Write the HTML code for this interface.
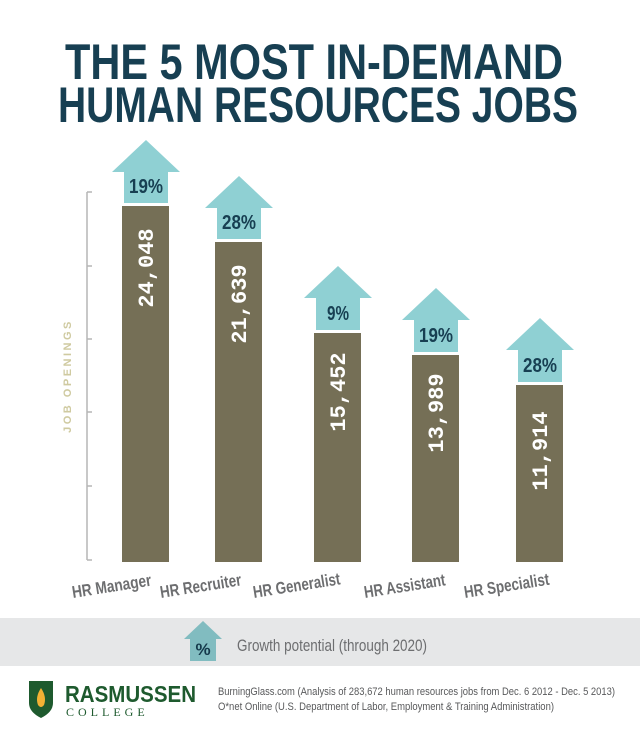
<!DOCTYPE html>
<html><head><meta charset="utf-8"><style>
html,body{margin:0;padding:0;background:#fff;}
svg{display:block;}
</style></head><body>
<svg width="640" height="730" viewBox="0 0 640 730" xmlns="http://www.w3.org/2000/svg">
<rect width="640" height="730" fill="#fff"/>
<g font-family="Liberation Sans, sans-serif" font-weight="bold" fill="#173f52" font-size="50">
<text x="65" y="79" textLength="498" lengthAdjust="spacingAndGlyphs">THE 5 MOST IN-DEMAND</text>
<text x="58" y="122" textLength="520" lengthAdjust="spacingAndGlyphs">HUMAN RESOURCES JOBS</text>
</g>
<g stroke="#b5b5b5" stroke-width="1.5" fill="none">
<line x1="87" y1="192" x2="87" y2="560"/>
<line x1="87" y1="192" x2="92" y2="192"/>
<line x1="87" y1="266" x2="92" y2="266"/>
<line x1="87" y1="339" x2="92" y2="339"/>
<line x1="87" y1="412" x2="92" y2="412"/>
<line x1="87" y1="486" x2="92" y2="486"/>
<line x1="87" y1="560" x2="92" y2="560"/>
</g>
<text transform="translate(71,376) rotate(-90)" text-anchor="middle" font-family="Liberation Sans, sans-serif" font-size="11" font-weight="bold" letter-spacing="2.5" fill="#cfcaa0">JOB OPENINGS</text>
<g fill="#756f56">
<rect x="122" y="206" width="47" height="356"/>
<rect x="215" y="242" width="47" height="320"/>
<rect x="314" y="333" width="47" height="229"/>
<rect x="412" y="355" width="47" height="207"/>
<rect x="516" y="385" width="47" height="177"/>
</g>
<g fill="#8fd0d3">
<path d="M146,140 L180,172 L168,172 L168,203 L124,203 L124,172 L112,172 Z"/>
<path d="M239,176 L273,208 L261,208 L261,239 L217,239 L217,208 L205,208 Z"/>
<path d="M338,266 L372,298 L360,298 L360,330 L316,330 L316,298 L304,298 Z"/>
<path d="M436,288 L470,320 L458,320 L458,352 L414,352 L414,320 L402,320 Z"/>
<path d="M540,318 L574,350 L562,350 L562,382 L518,382 L518,350 L506,350 Z"/>
<path d="M203,621 L222,639 L216,639 L216,661 L190,661 L190,639 L184,639 Z"/>
</g>
<g font-family="Liberation Sans, sans-serif" font-weight="bold" fill="#173f52" font-size="20" text-anchor="middle">
<text x="146" y="193" textLength="34" lengthAdjust="spacingAndGlyphs">19%</text>
<text x="239" y="229" textLength="34" lengthAdjust="spacingAndGlyphs">28%</text>
<text x="338" y="320" textLength="22" lengthAdjust="spacingAndGlyphs">9%</text>
<text x="436" y="342" textLength="34" lengthAdjust="spacingAndGlyphs">19%</text>
<text x="540" y="372" textLength="34" lengthAdjust="spacingAndGlyphs">28%</text>
<text x="203" y="655" font-size="17">%</text>
</g>
<g font-family="Liberation Mono, monospace" font-weight="bold" font-size="22" fill="#fff" text-anchor="middle">
<text transform="translate(153,268) rotate(-90)">24,048</text>
<text transform="translate(246,304) rotate(-90)">21,639</text>
<text transform="translate(345,392) rotate(-90)">15,452</text>
<text transform="translate(443,413) rotate(-90)">13,989</text>
<text transform="translate(547,451) rotate(-90)">11,914</text>
</g>
<g font-family="Liberation Sans, sans-serif" font-weight="bold" font-size="17" fill="#6d6e70">
<text transform="translate(73,598) rotate(-9)" textLength="80" lengthAdjust="spacingAndGlyphs">HR Manager</text>
<text transform="translate(161,598) rotate(-9)" textLength="82" lengthAdjust="spacingAndGlyphs">HR Recruiter</text>
<text transform="translate(254,598) rotate(-9)" textLength="88" lengthAdjust="spacingAndGlyphs">HR Generalist</text>
<text transform="translate(365,598) rotate(-9)" textLength="82" lengthAdjust="spacingAndGlyphs">HR Assistant</text>
<text transform="translate(465,598) rotate(-9)" textLength="86" lengthAdjust="spacingAndGlyphs">HR Specialist</text>
</g>
<rect x="0" y="618" width="640" height="48" fill="#e6e7e8" style="mix-blend-mode:multiply"/>
<text x="237" y="651" font-family="Liberation Sans, sans-serif" font-size="17" fill="#6d6e70" textLength="190" lengthAdjust="spacingAndGlyphs">Growth potential (through 2020)</text>
<path d="M29,681 L53,681 L53,703 Q53,712 41,718 Q29,712 29,703 Z" fill="#1e5a2e"/>
<path d="M41,688 Q47,697 44,705 Q41,709 38,705 Q35,697 41,688 Z" fill="#f2b134"/>
<text x="65" y="702" font-family="Liberation Sans, sans-serif" font-weight="bold" font-size="23" fill="#1e5a2e" textLength="131" lengthAdjust="spacingAndGlyphs">RASMUSSEN</text>
<text x="66" y="716" font-family="Liberation Serif, serif" font-size="12" fill="#1e5a2e" letter-spacing="4">COLLEGE</text>
<g font-family="Liberation Sans, sans-serif" font-size="11" fill="#58595b">
<text x="218" y="695" textLength="397" lengthAdjust="spacingAndGlyphs">BurningGlass.com (Analysis of 283,672 human resources jobs from Dec. 6 2012 - Dec. 5 2013)</text>
<text x="218" y="710" textLength="336" lengthAdjust="spacingAndGlyphs">O*net Online (U.S. Department of Labor, Employment &amp; Training  Administration)</text>
</g>
</svg>
</body></html>
